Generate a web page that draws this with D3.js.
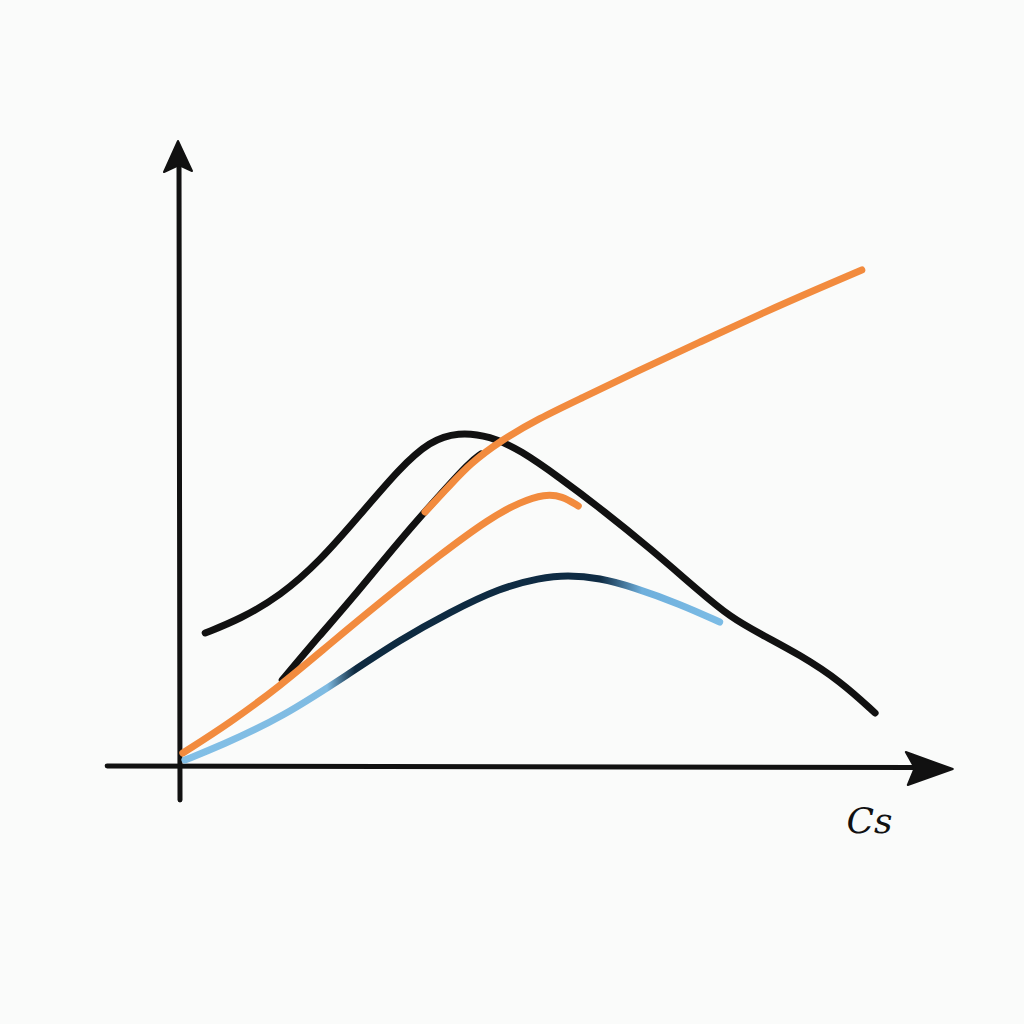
<!DOCTYPE html>
<html><head><meta charset="utf-8">
<script src="https://cdn.jsdelivr.net/npm/d3@7"></script>
<style>html,body{margin:0;padding:0;background:#fafbfa;}svg{display:block;}</style>
</head><body>
<script>
// Data (x, y in chart units)
const blackBellX = [0.36,0.86,1.43,2.0,2.57,3.14,3.57,3.97,4.43,4.86,5.43,6.0,6.71,7.43,7.86,8.29,8.86,9.43,9.93];
const blackBellY = [2.66,2.94,3.40,4.10,5.02,5.96,6.50,6.68,6.60,6.32,5.76,5.16,4.36,3.48,2.98,2.64,2.22,1.70,1.06];
const blackRiseX = [1.46,2.0,2.43,3.14,3.71,4.14,4.3];
const blackRiseY = [1.72,2.62,3.30,4.52,5.42,6.08,6.24];
const orangeTopX = [3.5,3.86,4.14,4.57,5.14,5.71,6.57,7.43,8.29,9.14,9.74];
const orangeTopY = [5.08,5.62,6.04,6.50,6.96,7.34,7.92,8.48,9.04,9.56,9.92];
const orangeLowX = [0.04,0.71,1.43,2.14,2.9,3.71,4.43,4.86,5.21,5.46,5.69];
const orangeLowY = [0.26,0.86,1.60,2.44,3.32,4.22,4.96,5.28,5.44,5.40,5.20];
const blueX = [0.07,0.57,1.47,2.43,3.14,3.86,4.57,5.14,5.53,6.0,6.47,7.14,7.71];
const blueY = [0.12,0.40,0.98,1.86,2.52,3.08,3.56,3.76,3.82,3.76,3.58,3.24,2.88];
const axisLabel = "Cs";

const W = 1024, H = 1024;
const x = d3.scaleLinear().domain([0, 10]).range([180, 880]);
const y = d3.scaleLinear().domain([0, 10]).range([766, 266]);

const svg = d3.select("body").append("svg").attr("width", W).attr("height", H);
svg.append("rect").attr("width", W).attr("height", H).attr("fill", "#fafbfa");

const defs = svg.append("defs");
const gx0 = x(0), gx1 = x(7.8), f = v => (x(v) - gx0) / (gx1 - gx0);
const grad = defs.append("linearGradient").attr("id", "blueGrad")
  .attr("gradientUnits", "userSpaceOnUse")
  .attr("x1", gx0).attr("x2", gx1).attr("y1", 0).attr("y2", 0);
[[0, "#82bfe6"], [f(2.1), "#7fbbe2"], [f(2.5), "#0e2a40"],
 [f(6.0), "#0f2c44"], [f(6.6), "#6eafdc"], [1, "#7dbde6"]]
 .forEach(([o, c]) => grad.append("stop").attr("offset", o).attr("stop-color", c));

const line = d3.line().x(d => x(d[0])).y(d => y(d[1])).curve(d3.curveBasis);
const zip = (a, b) => a.map((v, i) => [v, b[i]]);

// Axes
const axisG = svg.append("g").attr("stroke", "#111").attr("fill", "#111");
axisG.append("line").attr("x1", x(0)).attr("x2", x(0) - 1).attr("y1", y(-0.68)).attr("y2", y(12.1))
  .attr("stroke-width", 5).attr("stroke-linecap", "round");
axisG.append("line").attr("x1", x(-1.04)).attr("x2", x(10.5)).attr("y1", y(0)).attr("y2", y(-0.03))
  .attr("stroke-width", 5).attr("stroke-linecap", "round");
const yTip = [x(0) - 2, y(12.5)];
axisG.append("path").attr("stroke-width", 2).attr("stroke-linejoin", "round")
  .attr("d", `M${yTip[0]},${yTip[1]} L${yTip[0]+14},${yTip[1]+30} L${yTip[0]+1},${yTip[1]+24} L${yTip[0]-14},${yTip[1]+31} Z`);
const xTip = [x(11.04), y(-0.06)];
axisG.append("path").attr("stroke-width", 2).attr("stroke-linejoin", "round")
  .attr("d", `M${xTip[0]},${xTip[1]} L${xTip[0]-47},${xTip[1]-17} L${xTip[0]-38},${xTip[1]-1} L${xTip[0]-45},${xTip[1]+16} Z`);

// Curves
const SW = 7;
svg.append("path").datum(zip(blueX, blueY)).attr("d", line)
  .attr("fill", "none").attr("stroke", "url(#blueGrad)").attr("stroke-width", SW).attr("stroke-linecap", "round");
svg.append("path").datum(zip(blackRiseX, blackRiseY)).attr("d", line)
  .attr("fill", "none").attr("stroke", "#111").attr("stroke-width", SW).attr("stroke-linecap", "round");
svg.append("path").datum(zip(orangeLowX, orangeLowY)).attr("d", line)
  .attr("fill", "none").attr("stroke", "#f28b3e").attr("stroke-width", SW).attr("stroke-linecap", "round");
svg.append("path").datum(zip(blackBellX, blackBellY)).attr("d", line)
  .attr("fill", "none").attr("stroke", "#111").attr("stroke-width", SW).attr("stroke-linecap", "round");
svg.append("path").datum(zip(orangeTopX, orangeTopY)).attr("d", line)
  .attr("fill", "none").attr("stroke", "#f28b3e").attr("stroke-width", SW).attr("stroke-linecap", "round");

// Label
svg.append("text").attr("x", x(9.85)).attr("y", y(-1.34)).attr("text-anchor", "middle")
  .attr("font-family", "DejaVu Serif").attr("font-style", "italic").attr("font-size", 36)
  .attr("fill", "#111").text(axisLabel);
</script>
</body></html>
